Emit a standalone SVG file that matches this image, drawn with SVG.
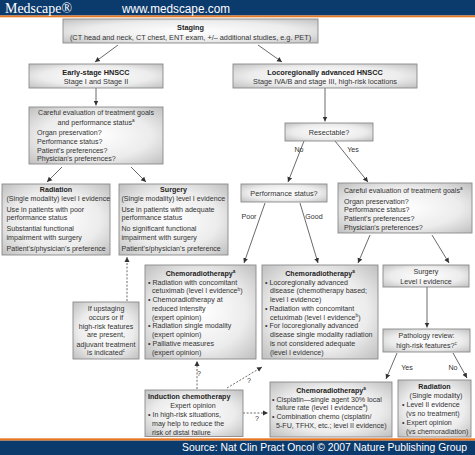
<svg xmlns="http://www.w3.org/2000/svg" width="475" height="455" viewBox="0 0 475 455">
<defs>
<radialGradient id="g" cx="0.5" cy="0.5" r="0.75">
<stop offset="0" stop-color="#ffffff"/>
<stop offset="0.55" stop-color="#ececec"/>
<stop offset="1" stop-color="#b8b8b8"/>
</radialGradient>
<marker id="ah" markerWidth="6" markerHeight="6" refX="5" refY="3" orient="auto" markerUnits="userSpaceOnUse">
<path d="M0,0.5 L5,3 L0,5.5 Z" fill="#333"/>
</marker>
</defs>
<style>
.box{fill:url(#g);stroke:#8a8a8a;stroke-width:0.9}
text{font-family:"Liberation Sans",Arial,sans-serif;font-size:7.1px;fill:#333}
.b{font-weight:bold;fill:#222}
.c{text-anchor:middle}
.s{font-size:4.6px}
.ln{stroke:#444;stroke-width:0.8;fill:none;marker-end:url(#ah)}
.d{stroke-dasharray:2,1.6}
.w{fill:#fff}
</style>
<rect width="475" height="455" fill="#fff"/>
<g id="header">
<rect x="0" y="0" width="475" height="15.5" fill="#0b3a6d"/>
<rect x="0" y="15.5" width="475" height="1.8" fill="#e87722"/>
<text x="5" y="13" class="w" style="font-family:'Liberation Serif',serif;font-size:15px" textLength="67" lengthAdjust="spacingAndGlyphs">Medscape®</text>
<text x="122" y="12.5" class="w" style="font-size:12px" textLength="108" lengthAdjust="spacingAndGlyphs">www.medscape.com</text>
</g>
<g id="footer">
<rect x="0" y="438.3" width="475" height="2.4" fill="#e87722"/>
<rect x="0" y="440.7" width="475" height="14.3" fill="#0b3a6d"/>
<text x="182" y="451.3" class="w" style="font-size:10.5px" textLength="285" lengthAdjust="spacingAndGlyphs">Source: Nat Clin Pract Oncol © 2007 Nature Publishing Group</text>
</g>
<g id="connectors">
<line class="ln" x1="118" y1="45" x2="95" y2="62"/>
<line class="ln" x1="258" y1="45" x2="282" y2="62"/>
<line class="ln" x1="96" y1="88" x2="96" y2="105.5"/>
<line class="ln" x1="62" y1="167" x2="47" y2="182"/>
<line class="ln" x1="131" y1="167" x2="146" y2="182"/>
<line class="ln" x1="325" y1="88" x2="325" y2="121.5"/>
<line class="ln" x1="304" y1="141" x2="288" y2="182"/>
<line class="ln" x1="335" y1="141" x2="368" y2="182"/>
<line class="ln" x1="265" y1="203" x2="244" y2="263"/>
<line class="ln" x1="300" y1="203" x2="318" y2="263"/>
<line class="ln" x1="370" y1="235" x2="358" y2="263"/>
<line class="ln" x1="432" y1="235" x2="449" y2="263"/>
<line class="ln" x1="427" y1="287" x2="427" y2="327.5"/>
<line class="ln" x1="397" y1="353" x2="386" y2="379"/>
<line class="ln" x1="453" y1="353" x2="467" y2="378"/>
<line class="ln d" x1="127" y1="301" x2="127" y2="257"/>
<line class="ln d" x1="197" y1="389" x2="197" y2="361"/>
<line class="ln d" x1="227" y1="388" x2="262" y2="367"/>
<line class="ln d" x1="243" y1="413" x2="268" y2="413"/>
<text x="299" y="151.5" class="c">No</text>
<text x="353" y="151.5" class="c">Yes</text>
<text x="249" y="219" class="c">Poor</text>
<text x="314" y="219" class="c">Good</text>
<text x="199" y="376" class="c">?</text>
<text x="249" y="383" class="c">?</text>
<text x="257" y="421" class="c">?</text>
<text x="407" y="370" class="c">Yes</text>
<text x="453" y="370" class="c">No</text>
</g>
<g id="staging">
<rect class="box" x="63" y="19" width="255" height="24"/>
<text x="190.5" y="29.5" class="c b" style="font-size:7.3px">Staging</text>
<text x="190.5" y="39.5" class="c" style="font-size:7.3px">(CT head and neck, CT chest, ENT exam, +/– additional studies, e.g. PET)</text>
</g>
<g id="early">
<rect class="box" x="29" y="64" width="134" height="24"/>
<text x="96" y="74.5" class="c b" style="font-size:7.3px">Early-stage HNSCC</text>
<text x="96" y="84" class="c" style="font-size:7.3px">Stage I and Stage II</text>
</g>
<g id="loco">
<rect class="box" x="233" y="64" width="184" height="24"/>
<text x="325" y="74.5" class="c b" style="font-size:7.3px">Locoregionally advanced HNSCC</text>
<text x="325" y="84" class="c" style="font-size:7.3px">Stage IVA/B and stage III, high-risk locations</text>
</g>
<g id="careful-left">
<rect class="box" x="29" y="107" width="134" height="57"/>
<text x="96" y="115" class="c">Careful evaluation of treatment goals</text>
<text x="96" y="124.5" class="c">and performance status<tspan class="s" dy="-2.6">a</tspan></text>
<text x="37" y="135">Organ preservation?</text>
<text x="37" y="144">Performance status?</text>
<text x="37" y="152.5">Patient's preferences?</text>
<text x="37" y="161">Physician's preferences?</text>
</g>
<g id="radiation-left">
<rect class="box" x="2" y="184" width="108" height="71"/>
<text x="56" y="192" class="c b">Radiation</text>
<text x="6.5" y="201">(Single modality) level I evidence</text>
<text x="6.5" y="211.5">Use in patients with poor</text>
<text x="6.5" y="220">performance status</text>
<text x="6.5" y="231">Substantial functional</text>
<text x="6.5" y="240">impairment with surgery</text>
<text x="6.5" y="251">Patient's/physician's preference</text>
</g>
<g id="surgery-left">
<rect class="box" x="119" y="184" width="109" height="71"/>
<text x="173.5" y="192" class="c b">Surgery</text>
<text x="121.5" y="201">(Single modality) level I evidence</text>
<text x="121.5" y="211.5">Use in patients with adequate</text>
<text x="121.5" y="220">performance status</text>
<text x="121.5" y="231">No significant functional</text>
<text x="121.5" y="240">impairment with surgery</text>
<text x="121.5" y="251">Patient's/physician's preference</text>
</g>
<g id="upstaging">
<rect class="box" x="73" y="302" width="66" height="57"/>
<text x="106" y="310.5" class="c">If upstaging</text>
<text x="106" y="319.5" class="c">occurs or if</text>
<text x="106" y="328.5" class="c">high-risk features</text>
<text x="106" y="337" class="c">are present,</text>
<text x="106" y="346.5" class="c">adjuvant treatment</text>
<text x="106" y="355" class="c">is indicated<tspan class="s" dy="-2.6">c</tspan></text>
</g>
<g id="resectable">
<rect class="box" x="285" y="123" width="88" height="18"/>
<text x="329" y="134.8" class="c" style="font-size:7.3px">Resectable?</text>
</g>
<g id="performance">
<rect class="box" x="241" y="184" width="86" height="18"/>
<text x="284" y="195.8" class="c" style="font-size:7.3px">Performance status?</text>
</g>
<g id="careful-right">
<rect class="box" x="338" y="183" width="134" height="50"/>
<text x="344" y="193">Careful evaluation of treatment goals<tspan class="s" dy="-2.6">a</tspan></text>
<text x="344" y="203.5">Organ preservation?</text>
<text x="344" y="212">Performance status?</text>
<text x="344" y="221">Patient's preferences?</text>
<text x="344" y="230">Physician's preferences?</text>
</g>
<g id="chemo-left">
<rect class="box" x="145" y="265" width="111" height="94"/>
<text x="200.5" y="275.5" class="c b">Chemoradiotherapy<tspan class="s" dy="-2.6">a</tspan></text>
<text x="148" y="284.5">• Radiation with concomitant</text>
<text x="152" y="293.2">cetuximab (level I evidence<tspan class="s" dy="-2.6">b</tspan><tspan dy="2.6">)</tspan></text>
<text x="148" y="302">• Chemoradiotherapy at</text>
<text x="152" y="310.7">reduced intensity</text>
<text x="152" y="319.5">(expert opinion)</text>
<text x="148" y="328.2">• Radiation single modality</text>
<text x="152" y="337">(expert opinion)</text>
<text x="148" y="345.7">• Palliative measures</text>
<text x="152" y="354.5">(expert opinion)</text>
</g>
<g id="chemo-middle">
<rect class="box" x="262" y="265" width="116" height="94"/>
<text x="320" y="275.5" class="c b">Chemoradiotherapy<tspan class="s" dy="-2.6">a</tspan></text>
<text x="265" y="284.5">• Locoregionally advanced</text>
<text x="270" y="293.2">disease (chemotherapy based;</text>
<text x="270" y="302">level I evidence)</text>
<text x="265" y="310.7">• Radiation with concomitant</text>
<text x="270" y="319.5">cetuximab (level I evidence<tspan class="s" dy="-2.6">b</tspan><tspan dy="2.6">)</tspan></text>
<text x="265" y="328.2">• For locoregionally advanced</text>
<text x="270" y="337">disease single modality radiation</text>
<text x="270" y="345.7">is not considered adequate</text>
<text x="270" y="354.5">(level I evidence)</text>
</g>
<g id="surgery-right">
<rect class="box" x="383" y="265" width="86" height="22"/>
<text x="426" y="274" class="c">Surgery</text>
<text x="426" y="283.5" class="c">Level I evidence</text>
</g>
<g id="pathology">
<rect class="box" x="383" y="329" width="87" height="23"/>
<text x="426.5" y="337.5" class="c">Pathology review:</text>
<text x="426.5" y="348" class="c">high-risk features?<tspan class="s" dy="-2.6">c</tspan></text>
</g>
<g id="induction">
<rect class="box" x="145" y="390" width="98" height="46.5"/>
<text x="148" y="399" class="b">Induction chemotherapy</text>
<text x="193" y="408" class="c">Expert opinion</text>
<text x="148" y="417">• In high-risk situations,</text>
<text x="152" y="426">may help to reduce the</text>
<text x="152" y="434.5">risk of distal failure</text>
</g>
<g id="chemo-bottom">
<rect class="box" x="270" y="382" width="122" height="55"/>
<text x="331" y="393" class="c b">Chemoradiotherapy<tspan class="s" dy="-2.6">a</tspan></text>
<text x="272" y="401.5">• Cisplatin—single agent 30% local</text>
<text x="276" y="410">failure rate (level I evidence<tspan class="s" dy="-2.6">a</tspan><tspan dy="2.6">)</tspan></text>
<text x="272" y="419">• Combination chemo (cisplatin/</text>
<text x="276" y="427.5">5-FU, TFHX, etc.; level II evidence)</text>
</g>
<g id="radiation-right">
<rect class="box" x="398" y="380" width="73" height="57"/>
<text x="434.5" y="389" class="c b">Radiation</text>
<text x="436" y="398" class="c">(Single modality)</text>
<text x="402" y="407">• Level II evidence</text>
<text x="406" y="416">(vs no treatment)</text>
<text x="402" y="424.5">• Expert opinion</text>
<text x="406" y="433.5">(vs chemoradiation)</text>
</g>
</svg>
